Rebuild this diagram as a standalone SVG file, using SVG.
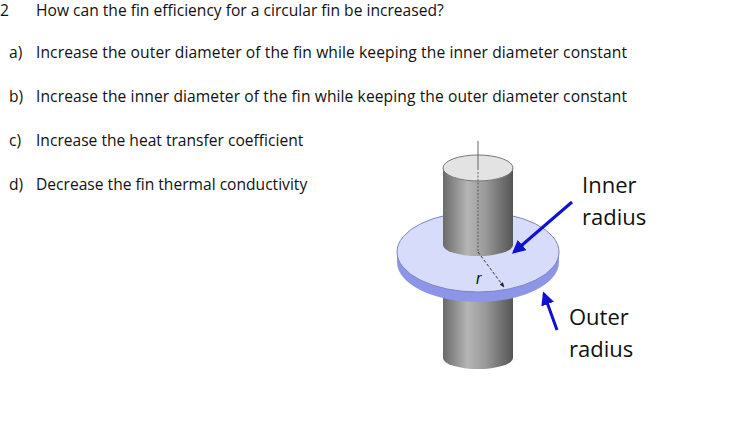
<svg xmlns="http://www.w3.org/2000/svg" width="748" height="421" viewBox="0 0 748 421">
<defs>
<style>
.t{font-family:"Open Sans","Liberation Sans",sans-serif;font-size:15.6px;fill:#111}
.l{font-family:"Open Sans","Liberation Sans",sans-serif;font-size:22px;fill:#111}
</style>
<linearGradient id="cyl" x1="0" x2="1" y1="0" y2="0">
<stop offset="0" stop-color="#6a6a6a"/><stop offset="0.35" stop-color="#b5b5b5"/><stop offset="0.6" stop-color="#9a9a9a"/><stop offset="1" stop-color="#555"/>
</linearGradient>
<marker id="ah" viewBox="0 0 10 10" refX="8" refY="5" markerWidth="4.5" markerHeight="4.5" orient="auto"><path d="M0,0 L10,5 L0,10 z" fill="#1010d0"/></marker>
<marker id="ak" viewBox="0 0 10 10" refX="9" refY="5" markerWidth="5" markerHeight="5" orient="auto"><path d="M0,1 L10,5 L0,9 z" fill="#222"/></marker>
</defs>
<rect width="748" height="421" fill="#fff"/>
<g id="text">
<text class="t" x="0" y="16">2</text>
<text class="t" x="36" y="16">How can the fin efficiency for a circular fin be increased?</text>
<text class="t" x="9" y="58">a)</text><text class="t" x="36" y="58" textLength="591">Increase the outer diameter of the fin while keeping the inner diameter constant</text>
<text class="t" x="9" y="102">b)</text><text class="t" x="36" y="102" textLength="591">Increase the inner diameter of the fin while keeping the outer diameter constant</text>
<text class="t" x="9" y="146">c)</text><text class="t" x="36" y="146">Increase the heat transfer coefficient</text>
<text class="t" x="9" y="190">d)</text><text class="t" x="36" y="190">Decrease the fin thermal conductivity</text>
</g>
<g id="fin">
<path d="M443,290 L443,358 A35,11 0 0 0 513,358 L513,290 Z" fill="url(#cyl)"/>
<path d="M397,252 L397,262 A81,40 0 0 0 559,262 L559,252 Z" fill="#8c95e8"/>
<ellipse cx="478" cy="252" rx="81" ry="40" fill="#d6dcfa" stroke="#7f86b8" stroke-width="1"/>
<path d="M443,168 L443,245 A35,11 0 0 0 513,245 L513,168 Z" fill="url(#cyl)"/>
<ellipse cx="478" cy="168" rx="35" ry="13" fill="#e3e3e3" stroke="#777" stroke-width="1"/>
<line x1="478" y1="141" x2="478" y2="170" stroke="#666" stroke-width="1"/>
<line x1="478" y1="172" x2="478" y2="252" stroke="#444" stroke-width="0.8" stroke-dasharray="2,1.5"/>
<line x1="478" y1="252" x2="504" y2="287" stroke="#333" stroke-width="1" stroke-dasharray="3,2" marker-end="url(#ak)"/>
<text x="476" y="284" font-family="Liberation Sans,sans-serif" font-style="italic" font-size="16" fill="#111">r</text>
</g>
<g id="connectors">
<line x1="572" y1="202" x2="514" y2="252" stroke="#1010d0" stroke-width="3" marker-end="url(#ah)"/>
<line x1="557" y1="330" x2="544" y2="294" stroke="#1010d0" stroke-width="3" marker-end="url(#ah)"/>
</g>
<g id="labels">
<text class="l" x="582" y="193">Inner</text><text class="l" x="582" y="225">radius</text>
<text class="l" x="569" y="325">Outer</text><text class="l" x="569" y="357">radius</text>
</g>
</svg>
